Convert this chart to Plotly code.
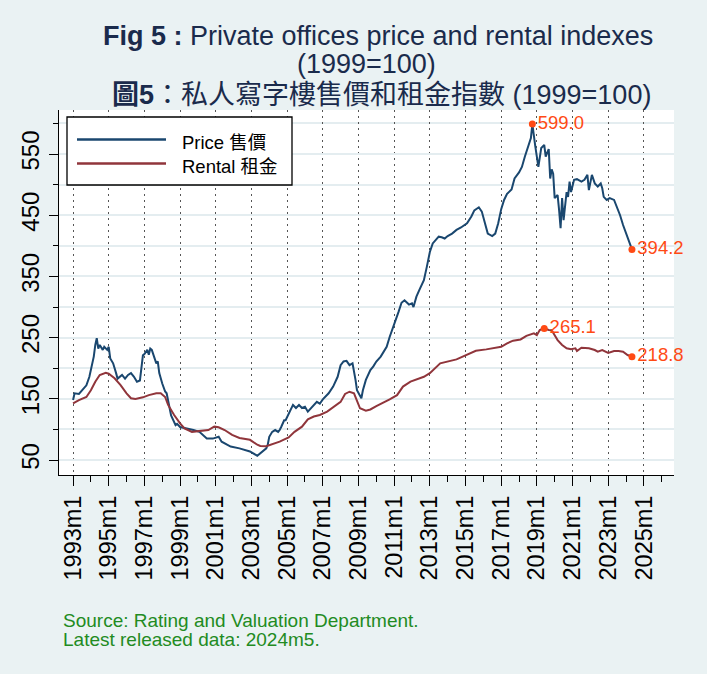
import plotly.graph_objects as go
import pandas as pd

# ---------------- data ----------------
price_months = [
    "1993m1", "1993m2", "1993m5", "1993m7", "1993m10", "1993m12", "1994m3", "1994m4", "1994m5", "1994m6",
    "1994m7", "1994m9", "1994m10", "1994m12", "1995m1", "1995m2", "1995m4", "1995m6", "1995m7", "1995m10",
    "1995m12", "1996m2", "1996m4", "1996m6", "1996m8", "1996m10", "1996m11", "1996m12", "1997m1", "1997m3",
    "1997m4", "1997m5", "1997m6", "1997m8", "1997m9", "1997m10", "1997m11", "1998m1", "1998m3", "1998m4",
    "1998m5", "1998m7", "1998m10", "1998m11", "1999m1", "1999m5", "1999m10", "2000m2", "2000m7", "2000m11",
    "2001m3", "2001m5", "2001m11", "2002m5", "2002m12", "2003m5", "2003m7", "2003m9", "2003m11", "2003m12",
    "2004m1", "2004m3", "2004m5", "2004m7", "2004m8", "2004m9", "2004m11", "2004m12", "2005m2", "2005m3",
    "2005m5", "2005m7", "2005m9", "2005m11", "2006m1", "2006m3", "2006m6", "2006m9", "2006m11", "2007m1",
    "2007m5", "2007m8", "2007m11", "2008m1", "2008m3", "2008m5", "2008m7", "2008m9", "2008m11", "2008m12",
    "2009m3", "2009m4", "2009m6", "2009m9", "2009m11", "2010m1", "2010m4", "2010m6", "2010m8", "2010m10",
    "2011m1", "2011m4", "2011m6", "2011m8", "2011m11", "2012m1", "2012m2", "2012m4", "2012m6", "2012m9",
    "2012m11", "2013m1", "2013m3", "2013m4", "2013m7", "2013m9", "2013m11", "2014m1", "2014m4", "2014m7",
    "2014m10", "2015m2", "2015m5", "2015m7", "2015m10", "2015m12", "2016m2", "2016m4", "2016m7", "2016m9",
    "2016m11", "2017m1", "2017m3", "2017m5", "2017m8", "2017m10", "2018m1", "2018m3", "2018m5", "2018m7",
    "2018m9", "2018m10", "2018m11", "2018m12", "2019m2", "2019m4", "2019m6", "2019m7", "2019m9", "2019m10",
    "2019m11", "2019m12", "2020m1", "2020m3", "2020m4", "2020m5", "2020m6", "2020m7", "2020m9", "2020m10",
    "2020m11", "2020m12", "2021m2", "2021m4", "2021m7", "2021m9", "2021m11", "2021m12", "2022m2", "2022m4",
    "2022m6", "2022m8", "2022m9", "2022m10", "2022m12", "2023m2", "2023m5", "2023m7", "2023m9", "2023m11",
    "2024m2", "2024m5",
]
price_values = [
    148, 159, 158, 164, 172, 186, 219, 238, 249, 232,
    238, 230, 235, 230, 235, 216, 208, 192, 183, 189,
    183, 189, 192, 186, 178, 180, 197, 221, 223, 230,
    222, 232, 230, 214, 208, 211, 192, 175, 162, 159,
    148, 123, 107, 109, 104, 102, 99, 96, 85, 85,
    88, 80, 72, 69, 64, 57, 61, 64, 69, 75,
    88, 96, 99, 96, 99, 104, 115, 115, 126, 132,
    140, 135, 140, 135, 137, 129, 137, 145, 142, 149,
    159, 170, 186, 205, 211, 212, 205, 208, 181, 164,
    151, 164, 181, 197, 203, 211, 219, 228, 235, 251,
    270, 292, 307, 311, 304, 306, 300, 317, 328, 344,
    366, 390, 404, 407, 415, 414, 412, 416, 420, 426,
    430, 437, 448, 458, 463, 456, 437, 420, 416, 420,
    437, 460, 475, 485, 492, 510, 520, 529, 546, 562,
    576, 599.0, 575, 562, 529, 560, 565, 546, 558, 510,
    525, 518, 478, 483, 458, 429, 478, 442, 488, 480,
    505, 488, 508, 509, 505, 508, 516, 491, 516, 502,
    497, 502, 494, 480, 475, 478, 475, 464, 450, 434,
    415, 394.2,
]

rental_months = [
    "1993m1", "1993m5", "1993m10", "1994m1", "1994m4", "1994m7", "1994m11", "1995m1", "1995m5", "1995m9",
    "1996m1", "1996m4", "1996m7", "1996m12", "1997m4", "1997m9", "1997m12", "1998m3", "1998m5", "1998m9",
    "1999m1", "1999m4", "1999m9", "2000m4", "2000m8", "2000m12", "2001m3", "2001m7", "2001m12", "2002m5",
    "2002m12", "2003m5", "2003m7", "2003m11", "2004m4", "2004m8", "2005m2", "2005m6", "2005m11", "2006m3",
    "2006m7", "2006m11", "2007m4", "2007m8", "2008m1", "2008m4", "2008m7", "2008m10", "2008m12", "2009m2",
    "2009m6", "2009m9", "2010m1", "2010m6", "2010m10", "2011m3", "2011m7", "2011m12", "2012m4", "2012m9",
    "2013m1", "2013m5", "2013m8", "2014m7", "2015m2", "2015m8", "2016m3", "2016m10", "2017m1", "2017m5",
    "2017m9", "2018m2", "2018m6", "2018m11", "2019m1", "2019m3", "2019m6", "2019m9", "2019m11", "2020m1",
    "2020m3", "2020m6", "2020m9", "2020m12", "2021m3", "2021m4", "2021m7", "2021m12", "2022m4", "2022m6",
    "2022m9", "2023m1", "2023m5", "2023m8", "2023m11", "2024m2", "2024m5",
]
rental_values = [
    142.6, 148, 153, 164, 178, 189, 192.7, 191, 183.5, 172.5,
    159, 151, 149.7, 152.4, 156, 159, 159, 153, 140, 123.5,
    110, 101.7, 96, 97.4, 99, 104.5, 103.5, 99, 91, 86,
    83, 75, 72.9, 72.5, 76, 80, 87, 96, 104.5, 116.5,
    121, 123.5, 129, 136, 145, 158, 161.6, 159, 145, 134.5,
    130.6, 132.6, 138, 143.6, 149, 156, 170, 178, 182, 186,
    192, 201, 208, 214.5, 221.6, 228.6, 230.8, 233.5, 235, 240.6,
    245, 247, 253, 257, 254, 262.4, 265.1, 262.4, 262, 254,
    246, 238, 232.5, 231, 232.5, 228, 233.5, 232.5, 229.7, 227,
    229.7, 225, 228, 228, 227, 221.6, 218.8,
]

x_tick_labels = ["1993m1", "1995m1", "1997m1", "1999m1", "2001m1", "2003m1", "2005m1", "2007m1",
                 "2009m1", "2011m1", "2013m1", "2015m1", "2017m1", "2019m1", "2021m1", "2023m1", "2025m1"]
x_minor_labels = ["1994m1", "1996m1", "1998m1", "2000m1", "2002m1", "2004m1", "2006m1", "2008m1",
                  "2010m1", "2012m1", "2014m1", "2016m1", "2018m1", "2020m1", "2022m1", "2024m1", "2026m1"]
y_tick_values = [50, 150, 250, 350, 450, 550]
y_minor_values = [100, 200, 300, 400, 500, 600]


def stata_month(s):
    y, m = s.split("m")
    return pd.Timestamp(year=int(y), month=int(m), day=1)


price_dates = [stata_month(s) for s in price_months]
rental_dates = [stata_month(s) for s in rental_months]

# ---------------- styling ----------------
W, H = 707, 674
L, R, T, B = 59, 33, 110, 199
PW, PH = W - L - R, H - T - B
BG = "#eaf2f3"
NAVY = "#1a476f"
MAROON = "#90353b"
ORANGE = "#ff4a14"
FONT = "Liberation Sans, Arial, Noto Sans CJK TC, sans-serif"


def px(x):
    return (x - L) / PW


def py(y):
    return (H - B - y) / PH


fig = go.Figure()
fig.add_trace(go.Scatter(x=price_dates, y=price_values, mode="lines",
                         line=dict(color=NAVY, width=2), name="Price 售價", showlegend=False))
fig.add_trace(go.Scatter(x=rental_dates, y=rental_values, mode="lines",
                         line=dict(color=MAROON, width=2), name="Rental 租金", showlegend=False))

# highlighted points: series max and latest value
pi = price_values.index(max(price_values))
ri = rental_values.index(max(rental_values))
hx = [price_dates[pi], price_dates[-1], rental_dates[ri], rental_dates[-1]]
hy = [price_values[pi], price_values[-1], rental_values[ri], rental_values[-1]]
fig.add_trace(go.Scatter(x=hx, y=hy, mode="markers+text",
                         marker=dict(color=ORANGE, size=7),
                         text=[f"{v:.1f}" for v in hy], textposition="middle right",
                         textfont=dict(color=ORANGE, size=18.5, family=FONT),
                         cliponaxis=False, showlegend=False))

TITLE_COLOR = "#1a2b4c"
annotations = []
# title
annotations.append(dict(text="<b>Fig 5 :</b> Private offices price and rental indexes",
                        x=px(378), y=py(36), xref="paper", yref="paper",
                        xanchor="center", yanchor="middle", showarrow=False,
                        font=dict(size=27, color=TITLE_COLOR, family=FONT)))
annotations.append(dict(text="(1999=100)",
                        x=px(366), y=py(63.5), xref="paper", yref="paper",
                        xanchor="center", yanchor="middle", showarrow=False,
                        font=dict(size=27, color=TITLE_COLOR, family=FONT)))
annotations.append(dict(text="<b>圖5</b>：私人寫字樓售價和租金指數 (1999=100)",
                        x=px(382), y=py(95), xref="paper", yref="paper",
                        xanchor="center", yanchor="middle", showarrow=False,
                        font=dict(size=27, color=TITLE_COLOR, family=FONT)))
# legend text
annotations.append(dict(text="Price 售價", x=px(180), y=py(142), xref="paper", yref="paper",
                        xanchor="left", yanchor="middle", showarrow=False,
                        font=dict(size=18.5, color="black", family=FONT)))
annotations.append(dict(text="Rental 租金", x=px(180), y=py(166.5), xref="paper", yref="paper",
                        xanchor="left", yanchor="middle", showarrow=False,
                        font=dict(size=18.5, color="black", family=FONT)))
# source
annotations.append(dict(text="Source: Rating and Valuation Department.", x=px(61), y=py(620.5),
                        xref="paper", yref="paper", xanchor="left", yanchor="middle", showarrow=False,
                        font=dict(size=19, color="#228b22", family=FONT)))
annotations.append(dict(text="Latest released data: 2024m5.", x=px(61), y=py(639.5),
                        xref="paper", yref="paper", xanchor="left", yanchor="middle", showarrow=False,
                        font=dict(size=19, color="#228b22", family=FONT)))

shapes = [
    dict(type="rect", xref="paper", yref="paper", x0=px(67), x1=px(292), y0=py(117), y1=py(185),
         fillcolor="white", line=dict(color="black", width=1.3), layer="above"),
    dict(type="line", xref="paper", yref="paper", x0=px(77), x1=px(166), y0=py(139.5), y1=py(139.5),
         line=dict(color=NAVY, width=2.5), layer="above"),
    dict(type="line", xref="paper", yref="paper", x0=px(77), x1=px(166), y0=py(163.5), y1=py(163.5),
         line=dict(color=MAROON, width=2.5), layer="above"),
]

fig.update_layout(
    width=W, height=H,
    margin=dict(l=L, r=R, t=T, b=B, pad=0),
    paper_bgcolor=BG, plot_bgcolor="white",
    font=dict(family=FONT, color="black"),
    annotations=annotations, shapes=shapes,
    showlegend=False,
)
fig.update_xaxes(
    type="date",
    range=[pd.Timestamp("1992-03-19"), pd.Timestamp("2026-09-09")],
    tickmode="array", tickvals=[stata_month(s) for s in x_tick_labels], ticktext=x_tick_labels,
    tickangle=-90, tickfont=dict(size=23.5, color="black", family=FONT),
    ticks="outside", ticklen=10, tickwidth=1.2, tickcolor="black",
    showline=True, linecolor="black", linewidth=1.3, mirror=False,
    showgrid=True, gridcolor="#555555", gridwidth=1, griddash="1.5px,4.5px",
    minor=dict(tickmode="array", tickvals=[stata_month(s) for s in x_minor_labels],
               ticks="outside", ticklen=6, tickwidth=1.2, tickcolor="black", showgrid=False),
    zeroline=False,
)
fig.update_yaxes(
    range=[25.5, 622],
    tickmode="array", tickvals=y_tick_values, ticktext=[str(v) for v in y_tick_values],
    tickangle=-90, tickfont=dict(size=24, color="black", family=FONT),
    ticks="outside", ticklen=9, tickwidth=1.2, tickcolor="black",
    showline=True, linecolor="black", linewidth=1.3, mirror=False,
    showgrid=True, gridcolor="#e4edf0", gridwidth=2,
    minor=dict(tickmode="array", tickvals=y_minor_values, ticks="outside", ticklen=5,
               tickwidth=1.2, tickcolor="black", showgrid=True, gridcolor="#e4edf0", gridwidth=2),
    zeroline=False,
)

fig.write_html("out.html")
